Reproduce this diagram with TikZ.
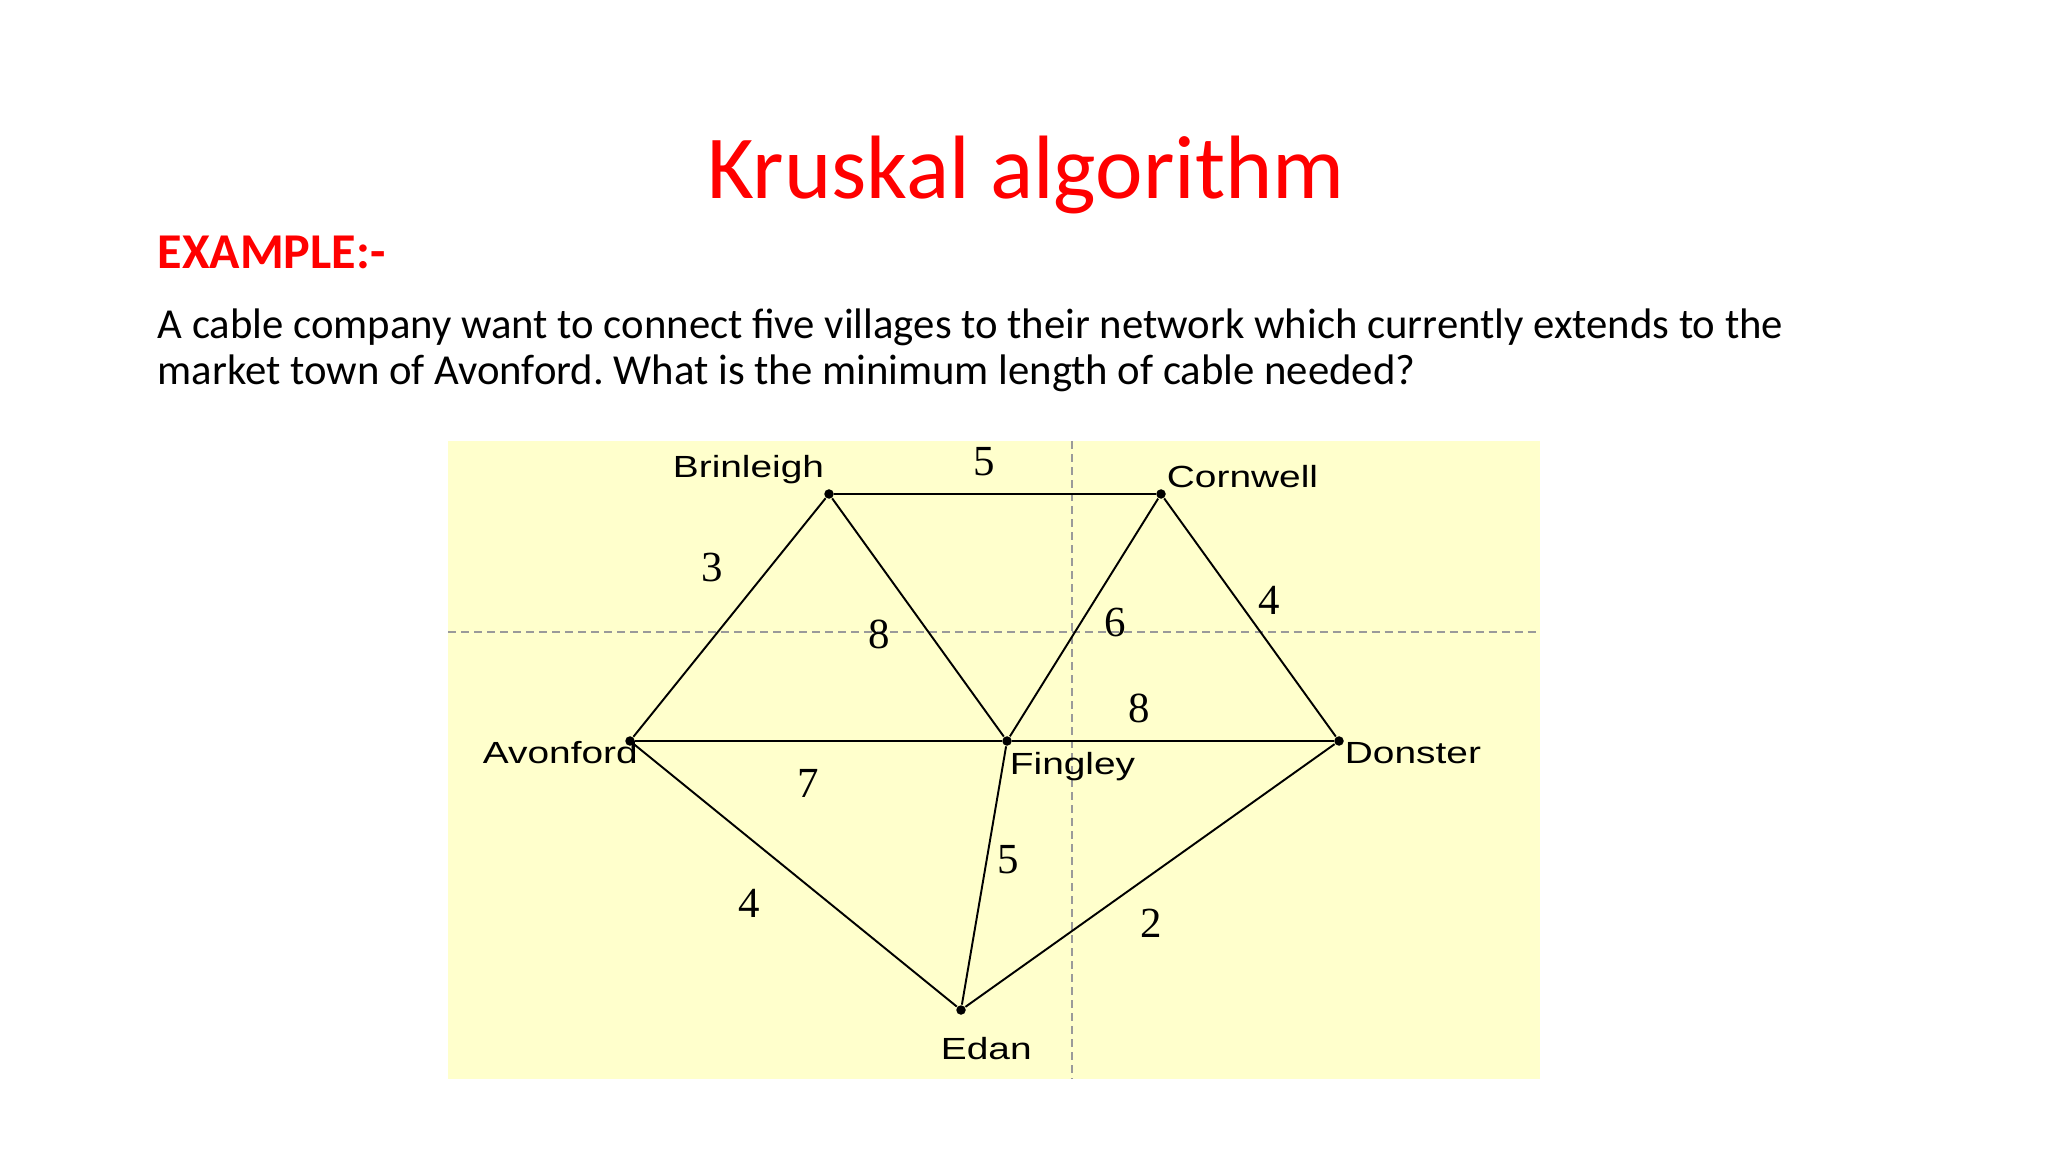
\documentclass[tikz,border=0pt]{standalone}
\usepackage{fontspec}
\setmainfont{Carlito}
\newfontfamily\arialf{Liberation Sans}
\newfontfamily\timesf{Liberation Serif}
\definecolor{slidered}{HTML}{FF0000}
\definecolor{paleyellow}{HTML}{FFFFCC}
\definecolor{gridgray}{HTML}{9A9A9A}
\frenchspacing
\begin{document}
\begin{tikzpicture}[x=0.01cm,y=-0.01cm,
  town/.style={circle,fill=black,inner sep=0pt,minimum size=0.095cm},
  vname/.style={font=\arialf\fontsize{8.7}{10}\selectfont,inner sep=0pt,anchor=base west,xscale=1.27},
  wt/.style={font=\timesf\fontsize{12.2}{14}\selectfont,inner sep=0pt},
  road/.style={line width=0.55pt,black},
  grid line/.style={gridgray,line width=0.4pt,dash pattern=on 0.08cm off 0.05cm},
  body/.style={anchor=base west,inner sep=0pt,font=\fontsize{12.15}{13}\selectfont}]
\useasboundingbox (0,0) rectangle (2048,1152);
\fill[white] (0,0) rectangle (2048,1152);
% title and text
\node[anchor=base,inner sep=0pt,text=slidered,font=\fontsize{25.6}{30}\selectfont] (title) at (1026,199) {Kruskal algorithm};
\node[anchor=base west,inner sep=0pt,text=slidered,font=\bfseries\fontsize{14.25}{16}\selectfont] (example) at (157,269) {EXAMPLE:-};
\node[body] (line1) at (157,339) {A cable company want to connect five villages to their network which currently extends to the};
\node[body] (line2) at (157,385) {market town of Avonford. What is the minimum length of cable needed?};
% panel
\fill[paleyellow] (448,441) rectangle (1540,1079);
\coordinate (vtop) at (1072,441);
\coordinate (vbot) at (1072,1079);
\coordinate (hleft) at (448,632);
\coordinate (hright) at (1540,632);
\draw[grid line] (vtop) -- (vbot);
\draw[grid line] (hleft) -- (hright);
% towns
\node[town] (B) at (829,494) {};
\node[town] (C) at (1161,494) {};
\node[town] (A) at (630,741) {};
\node[town] (F) at (1007,741) {};
\node[town] (D) at (1339,741) {};
\node[town] (E) at (961,1010) {};
% roads
\draw[road] (B) -- (C);
\draw[road] (B) -- (A);
\draw[road] (B) -- (F);
\draw[road] (C) -- (F);
\draw[road] (C) -- (D);
\draw[road] (A) -- (F);
\draw[road] (F) -- (D);
\draw[road] (A) -- (E);
\draw[road] (F) -- (E);
\draw[road] (E) -- (D);
% names
\node[vname] (nB) at (672,478) {Brinleigh};
\node[vname] (nC) at (1166,488) {Cornwell};
\node[vname] (nA) at (482,763) {Avonford};
\node[vname] (nF) at (1009,774) {Fingley};
\node[vname] (nD) at (1344,763) {Donster};
\node[vname] (nE) at (940,1059) {Edan};
% weights
\node[wt] (wBC) at (984,462) {5};
\node[wt] (wAB) at (712,568) {3};
\node[wt] (wBF) at (879,634) {8};
\node[wt] (wCF) at (1115,623) {6};
\node[wt] (wCD) at (1269,600) {4};
\node[wt] (wFD) at (1139,708) {8};
\node[wt] (wAF) at (808,783) {7};
\node[wt] (wFE) at (1008,860) {5};
\node[wt] (wAE) at (749,903) {4};
\node[wt] (wED) at (1151,923) {2};
\end{tikzpicture}
\end{document}
